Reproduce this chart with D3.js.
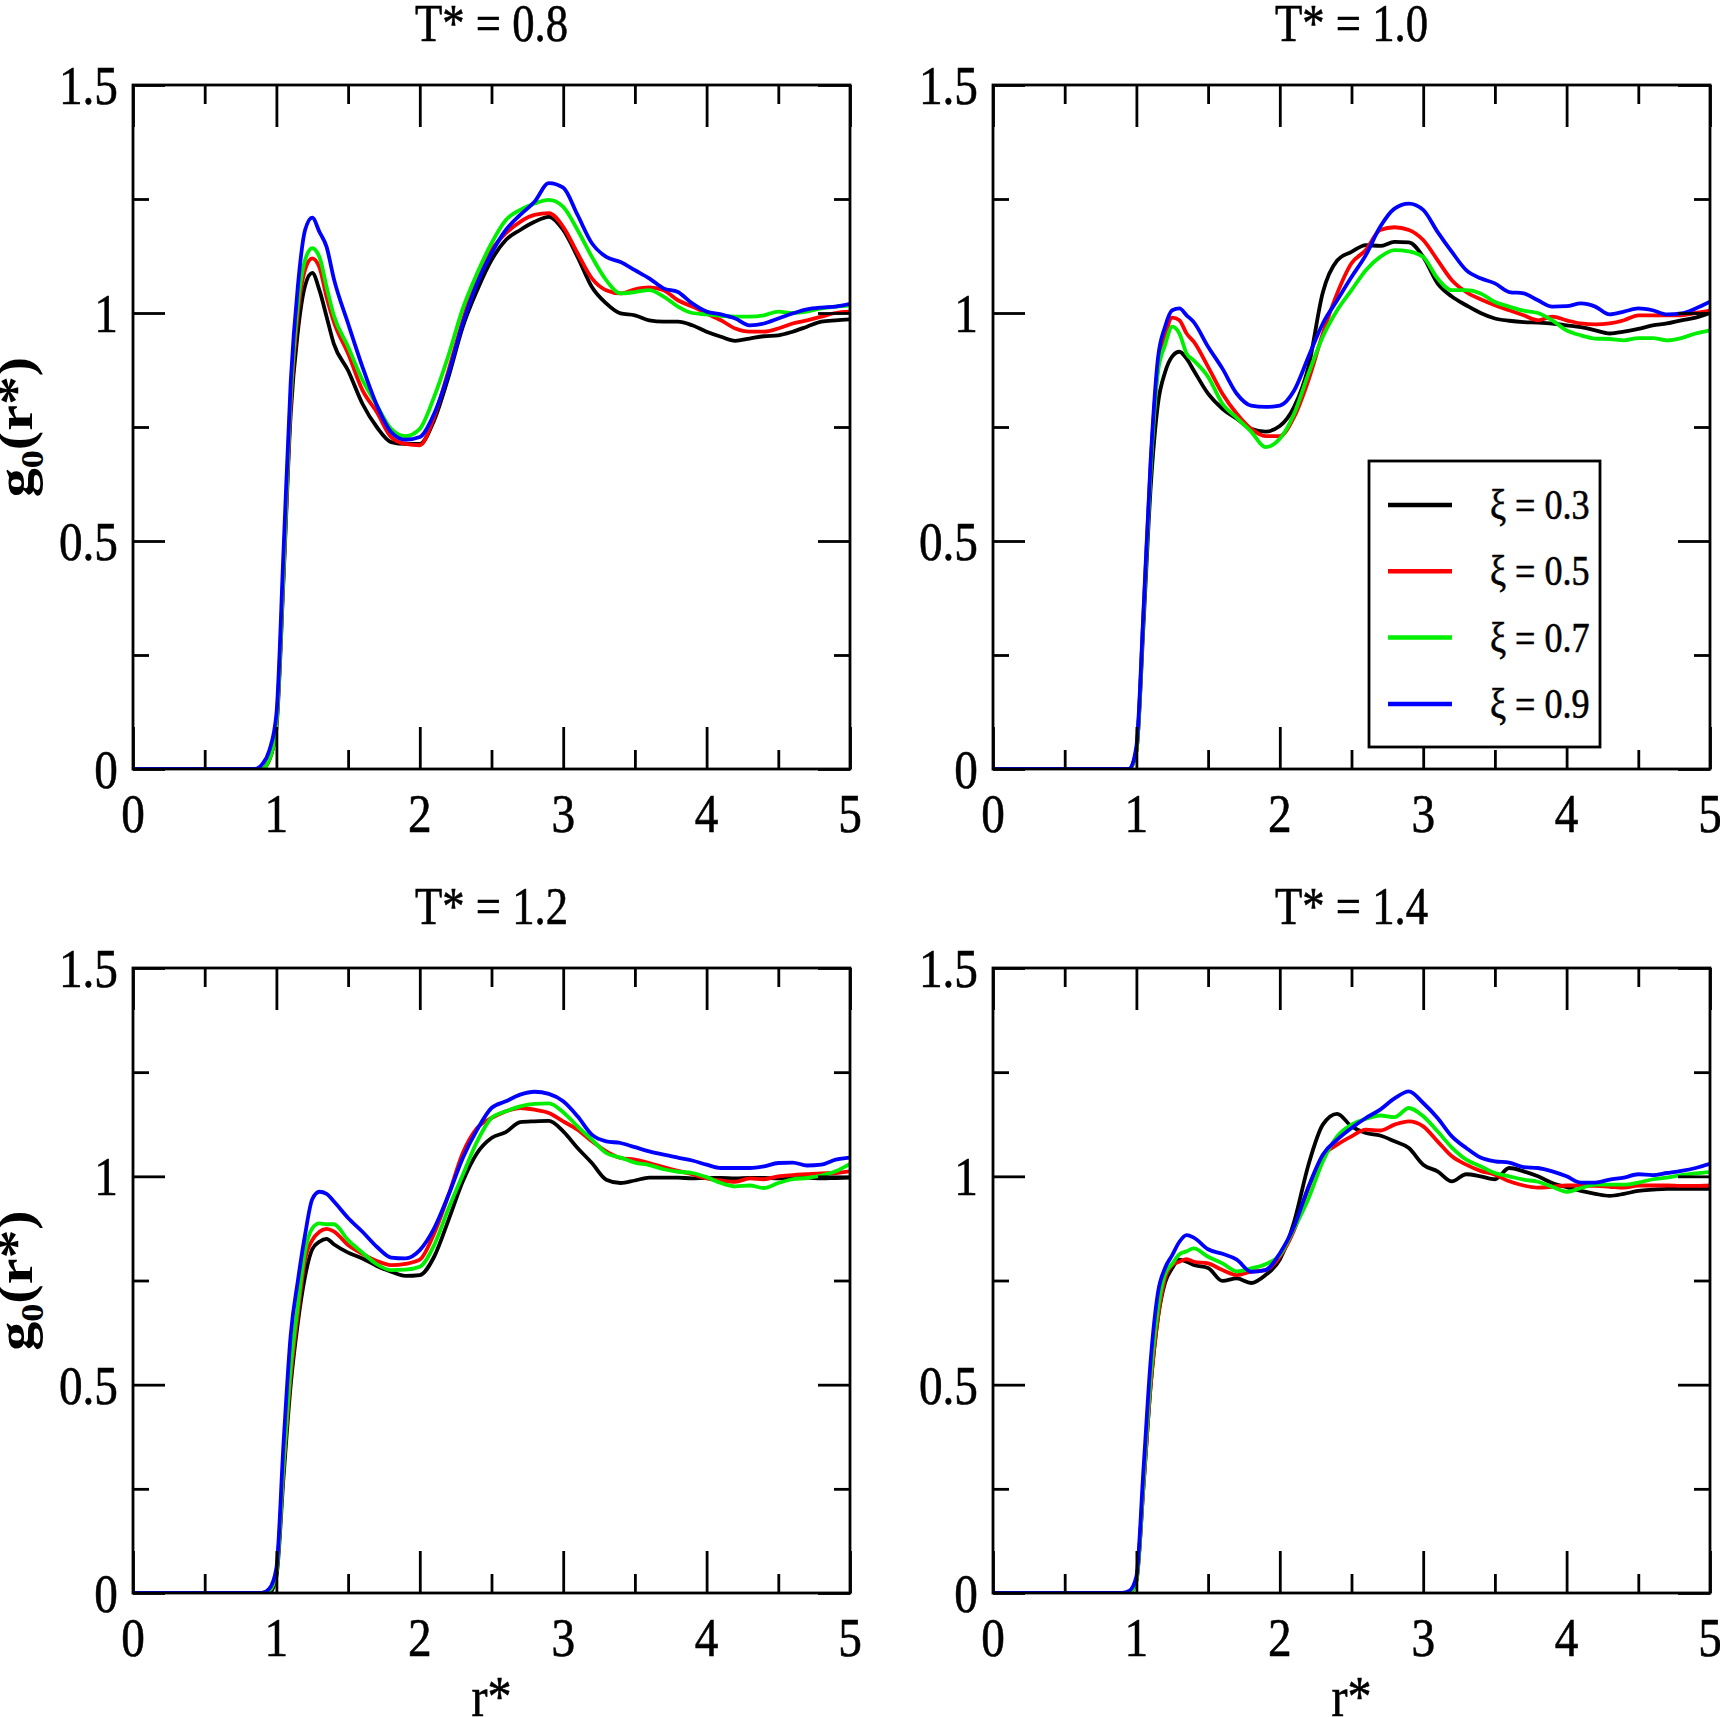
<!DOCTYPE html>
<html>
<head>
<meta charset="utf-8">
<script src="https://cdnjs.cloudflare.com/ajax/libs/d3/7.8.5/d3.min.js"></script>
<style>
  body { margin: 0; background: #fff; }
  svg { display: block; font-family: "Liberation Serif", "Times New Roman", serif; }
</style>
</head>
<body>
<div class="canvas"></div>
<script>
// r* sample points (shared by every curve)
const rGrid = [0, 0.85, 0.9, 0.95, 1.0, 1.05, 1.1, 1.15, 1.2, 1.25, 1.3, 1.35, 1.4,
  1.5, 1.6, 1.7, 1.8, 1.9, 2.0, 2.1, 2.2, 2.3, 2.4, 2.5, 2.6, 2.7, 2.8, 2.9, 3.0,
  3.1, 3.2, 3.3, 3.4, 3.5, 3.6, 3.7, 3.8, 3.9, 4.0, 4.1, 4.2, 4.3, 4.4, 4.5, 4.6,
  4.7, 4.8, 4.9, 5.0]

const xTicks = [0, 1, 2, 3, 4, 5]
const xMinor = [0.5, 1.5, 2.5, 3.5, 4.5]
const yTicks = [0, 0.5, 1, 1.5]
const yMinor = [0.25, 0.75, 1.25]
const yTickLabels = ['0', '0.5', '1', '1.5']

const panelTitles = ['T* = 0.8', 'T* = 1.0', 'T* = 1.2', 'T* = 1.4']
const xiLabels = ['ξ = 0.3', 'ξ = 0.5', 'ξ = 0.7', 'ξ = 0.9']
const xiColors = ['#000000', '#ff0000', '#00ee00', '#0000ff']

// T* = 0.8
const t08xi03 = [0, 0, 0, 0.02, 0.09, 0.42, 0.78, 0.96, 1.06, 1.088, 1.05, 0.992, 0.933,
  0.874, 0.801, 0.75, 0.717, 0.713, 0.713, 0.765, 0.86, 0.97, 1.05, 1.116, 1.16, 1.182, 1.2, 1.211, 1.182,
  1.123, 1.057, 1.021, 0.999, 0.995, 0.984, 0.981, 0.981, 0.973, 0.959, 0.948, 0.939, 0.944, 0.949, 0.951, 0.959,
  0.97, 0.981, 0.984, 0.986]
const t08xi05 = [0, 0, 0, 0.02, 0.1, 0.43, 0.8, 1.0, 1.095, 1.12, 1.1, 1.035, 0.981,
  0.911, 0.831, 0.783, 0.728, 0.713, 0.71, 0.772, 0.874, 0.984, 1.079, 1.138, 1.175, 1.2, 1.215, 1.219, 1.189,
  1.131, 1.076, 1.05, 1.043, 1.052, 1.056, 1.05, 1.028, 1.014, 0.999, 0.984, 0.966, 0.959, 0.959, 0.966, 0.977,
  0.984, 0.992, 1.0, 1.003]
const t08xi07 = [0, 0, 0, 0.02, 0.1, 0.44, 0.82, 1.02, 1.116, 1.142, 1.123, 1.057, 0.995,
  0.926, 0.853, 0.798, 0.746, 0.73, 0.746, 0.816, 0.907, 1.01, 1.087, 1.153, 1.204, 1.226, 1.24, 1.248, 1.233,
  1.182, 1.123, 1.072, 1.043, 1.046, 1.05, 1.036, 1.014, 1.0, 0.997, 0.994, 0.992, 0.992, 0.995, 1.003, 1.0,
  1.003, 1.01, 1.014, 1.017]
const t08xi09 = [0, 0, 0.01, 0.04, 0.12, 0.48, 0.85, 1.06, 1.182, 1.209, 1.178, 1.145, 1.076,
  0.977, 0.882, 0.798, 0.739, 0.722, 0.728, 0.779, 0.867, 0.977, 1.065, 1.131, 1.182, 1.215, 1.244, 1.285, 1.275,
  1.215, 1.153, 1.123, 1.112, 1.094, 1.076, 1.054, 1.046, 1.021, 1.003, 0.997, 0.988, 0.973, 0.977, 0.988, 0.999,
  1.008, 1.012, 1.014, 1.02]

// T* = 1.0
const t10xi03 = [0, 0, 0, 0, 0.04, 0.32, 0.62, 0.8, 0.87, 0.905, 0.915, 0.9, 0.874,
  0.823, 0.79, 0.768, 0.746, 0.74, 0.752, 0.794, 0.882, 1.045, 1.115, 1.134, 1.149, 1.147, 1.156, 1.155, 1.123,
  1.065, 1.036, 1.017, 1.0, 0.988, 0.983, 0.98, 0.979, 0.977, 0.973, 0.969, 0.962, 0.955, 0.959, 0.965, 0.973,
  0.977, 0.984, 0.99, 1.0]
const t10xi05 = [0, 0, 0, 0, 0.04, 0.34, 0.67, 0.88, 0.95, 0.99, 0.984, 0.955, 0.937,
  0.882, 0.823, 0.779, 0.746, 0.73, 0.73, 0.772, 0.853, 0.955, 1.043, 1.109, 1.138, 1.182, 1.188, 1.182, 1.16,
  1.116, 1.072, 1.046, 1.03, 1.017, 1.006, 0.995, 0.984, 0.992, 0.984, 0.977, 0.975, 0.977, 0.984, 0.995, 0.995,
  0.995, 0.995, 1.0, 1.005]
const t10xi07 = [0, 0, 0, 0, 0.04, 0.34, 0.66, 0.87, 0.93, 0.97, 0.955, 0.911, 0.896,
  0.86, 0.801, 0.77, 0.74, 0.706, 0.724, 0.779, 0.867, 0.948, 1.006, 1.05, 1.094, 1.123, 1.138, 1.135, 1.123,
  1.076, 1.05, 1.05, 1.043, 1.024, 1.014, 1.005, 1.0, 0.984, 0.962, 0.951, 0.944, 0.943, 0.94, 0.945, 0.945,
  0.94, 0.945, 0.955, 0.962]
const t10xi09 = [0, 0, 0, 0, 0.05, 0.35, 0.68, 0.9, 0.97, 1.006, 1.01, 0.995, 0.98,
  0.926, 0.878, 0.823, 0.797, 0.794, 0.797, 0.83, 0.904, 0.977, 1.028, 1.079, 1.127, 1.189, 1.229, 1.24, 1.226,
  1.178, 1.134, 1.094, 1.076, 1.065, 1.046, 1.043, 1.028, 1.014, 1.015, 1.021, 1.014, 0.997, 1.003, 1.01, 1.006,
  0.997, 0.999, 1.01, 1.025]

// T* = 1.2
const t12xi03 = [0, 0, 0, 0, 0.04, 0.28, 0.5, 0.65, 0.76, 0.825, 0.843, 0.85, 0.837,
  0.817, 0.803, 0.785, 0.771, 0.761, 0.763, 0.807, 0.895, 0.988, 1.056, 1.092, 1.106, 1.13, 1.132, 1.133, 1.108,
  1.068, 1.032, 0.992, 0.984, 0.99, 0.997, 0.997, 0.997, 0.995, 0.996, 0.996, 0.995, 0.996, 0.996, 0.995, 0.996,
  0.997, 0.995, 0.996, 0.997]
const t12xi05 = [0, 0, 0, 0.005, 0.05, 0.3, 0.52, 0.67, 0.8, 0.847, 0.867, 0.874, 0.868,
  0.835, 0.814, 0.797, 0.787, 0.79, 0.8, 0.863, 0.955, 1.056, 1.116, 1.14, 1.156, 1.164, 1.16, 1.152, 1.132,
  1.112, 1.084, 1.06, 1.044, 1.04, 1.032, 1.022, 1.013, 1.005, 0.995, 0.99, 0.987, 0.995, 0.993, 1.0, 1.003,
  1.005, 1.007, 1.008, 1.012]
const t12xi07 = [0, 0, 0, 0.005, 0.05, 0.31, 0.54, 0.69, 0.82, 0.875, 0.887, 0.885, 0.885,
  0.847, 0.817, 0.789, 0.775, 0.776, 0.783, 0.835, 0.923, 1.004, 1.084, 1.14, 1.156, 1.168, 1.174, 1.175, 1.154,
  1.12, 1.088, 1.056, 1.045, 1.033, 1.027, 1.017, 1.011, 1.008, 0.998, 0.984, 0.976, 0.978, 0.972, 0.984, 0.993,
  0.996, 1.002, 1.012, 1.03]
const t12xi09 = [0, 0, 0, 0.01, 0.06, 0.36, 0.62, 0.75, 0.86, 0.945, 0.963, 0.958, 0.94,
  0.9, 0.867, 0.831, 0.805, 0.803, 0.823, 0.875, 0.955, 1.044, 1.112, 1.164, 1.18, 1.196, 1.203, 1.198, 1.18,
  1.144, 1.1, 1.084, 1.08, 1.07, 1.06, 1.052, 1.045, 1.038, 1.028, 1.02, 1.02, 1.02, 1.024, 1.032, 1.033,
  1.026, 1.028, 1.04, 1.045]

// T* = 1.4
const t14xi03 = [0, 0, 0, 0, 0.03, 0.26, 0.5, 0.66, 0.745, 0.78, 0.8, 0.795, 0.787,
  0.78, 0.749, 0.755, 0.744, 0.763, 0.8, 0.891, 1.028, 1.124, 1.15, 1.12, 1.104, 1.098, 1.084, 1.068, 1.028,
  1.012, 0.988, 1.005, 1.0, 0.993, 1.02, 1.012, 1.0, 0.984, 0.974, 0.965, 0.958, 0.953, 0.958, 0.965, 0.968,
  0.97, 0.97, 0.97, 0.97]
const t14xi05 = [0, 0, 0, 0, 0.03, 0.26, 0.5, 0.66, 0.755, 0.787, 0.795, 0.801, 0.795,
  0.791, 0.775, 0.763, 0.771, 0.775, 0.807, 0.871, 0.972, 1.048, 1.076, 1.096, 1.112, 1.11, 1.124, 1.132, 1.12,
  1.084, 1.048, 1.028, 1.013, 1.004, 0.988, 0.978, 0.973, 0.975, 0.978, 0.978, 0.977, 0.975, 0.973, 0.978, 0.978,
  0.978, 0.977, 0.977, 0.978]
const t14xi07 = [0, 0, 0, 0, 0.03, 0.27, 0.52, 0.68, 0.765, 0.79, 0.813, 0.82, 0.827,
  0.807, 0.791, 0.772, 0.779, 0.789, 0.811, 0.875, 0.947, 1.036, 1.096, 1.124, 1.138, 1.146, 1.142, 1.164, 1.144,
  1.108, 1.069, 1.04, 1.024, 1.008, 1.0, 0.992, 0.987, 0.975, 0.963, 0.972, 0.98, 0.98, 0.98, 0.985, 0.993,
  0.997, 1.003, 1.007, 1.01]
const t14xi09 = [0, 0, 0, 0.005, 0.04, 0.3, 0.56, 0.72, 0.78, 0.811, 0.843, 0.859, 0.853,
  0.825, 0.814, 0.8, 0.771, 0.775, 0.815, 0.88, 0.975, 1.052, 1.088, 1.116, 1.14, 1.16, 1.187, 1.204, 1.176,
  1.14, 1.096, 1.068, 1.045, 1.036, 1.033, 1.022, 1.02, 1.012, 1.0, 0.985, 0.985, 0.992, 0.997, 1.005, 1.003,
  1.008, 1.013, 1.02, 1.03]

const panelSeries = [
  [t08xi03, t08xi05, t08xi07, t08xi09],
  [t10xi03, t10xi05, t10xi07, t10xi09],
  [t12xi03, t12xi05, t12xi07, t12xi09],
  [t14xi03, t14xi05, t14xi07, t14xi09]
]

// Layout
const W = 1720, H = 1717
const squeeze = 0.86   // glyphs in the figure are narrow
const boxes = [
  { left: 133, top: 85, w: 717, h: 684 },
  { left: 993, top: 85, w: 717, h: 684 },
  { left: 133, top: 968, w: 717, h: 625 },
  { left: 993, top: 968, w: 717, h: 625 }
]

const svg = d3.select('.canvas')
  .append('svg')
  .attr('width', W)
  .attr('height', H)

svg.append('rect').attr('width', W).attr('height', H).attr('fill', '#fff')

const addText = (parent, x, y, str, size, anchor) => {
  return parent.append('text')
    .attr('transform', `translate(${x}, ${y}) scale(${squeeze}, 1)`)
    .attr('text-anchor', anchor)
    .attr('font-size', size)
    .attr('fill', '#000')
    .attr('stroke', '#000')
    .attr('stroke-width', 0.6)
    .text(str)
}

panelTitles.forEach((title, p) => {
  const b = boxes[p]
  const graph = svg.append('g')
    .attr('transform', `translate(${b.left}, ${b.top})`)

  const x = d3.scaleLinear().domain([0, 5]).range([0, b.w])
  const y = d3.scaleLinear().domain([0, 1.5]).range([b.h, 0])

  // clip
  graph.append('clipPath').attr('id', 'clip' + p)
    .append('rect').attr('width', b.w).attr('height', b.h)

  // curves
  const line = d3.line()
    .x((d, i) => x(rGrid[i]))
    .y(d => y(d))
    .curve(d3.curveMonotoneX)

  graph.append('g').attr('clip-path', `url(#clip${p})`)
    .selectAll('path')
    .data(panelSeries[p])
    .enter()
    .append('path')
    .attr('d', line)
    .attr('fill', 'none')
    .attr('stroke', (d, i) => xiColors[i])
    .attr('stroke-width', 3.8)
    .attr('stroke-linejoin', 'round')

  // ticks (inside, on all four sides)
  const tickGroup = (axis, tx, ty) => {
    graph.append('g')
      .attr('transform', `translate(${tx}, ${ty})`)
      .call(axis.tickFormat(''))
      .call(g => g.select('.domain').remove())
      .call(g => g.selectAll('line').attr('stroke', '#000').attr('stroke-width', 2.8))
  }
  tickGroup(d3.axisBottom(x).tickValues(xTicks).tickSize(-42), 0, b.h)
  tickGroup(d3.axisBottom(x).tickValues(xMinor).tickSize(-19), 0, b.h)
  tickGroup(d3.axisTop(x).tickValues(xTicks).tickSize(-42), 0, 0)
  tickGroup(d3.axisTop(x).tickValues(xMinor).tickSize(-19), 0, 0)
  tickGroup(d3.axisLeft(y).tickValues(yTicks).tickSize(-32), 0, 0)
  tickGroup(d3.axisLeft(y).tickValues(yMinor).tickSize(-16), 0, 0)
  tickGroup(d3.axisRight(y).tickValues(yTicks).tickSize(-32), b.w, 0)
  tickGroup(d3.axisRight(y).tickValues(yMinor).tickSize(-16), b.w, 0)

  // frame
  graph.append('rect')
    .attr('width', b.w)
    .attr('height', b.h)
    .attr('fill', 'none')
    .attr('stroke', '#000')
    .attr('stroke-width', 2.8)

  // tick labels
  xTicks.forEach(t => addText(graph, x(t), b.h + 63, String(t), 55, 'middle'))
  yTicks.forEach((t, i) => addText(graph, -15, y(t) + 19, yTickLabels[i], 55, 'end'))

  // title
  addText(graph, b.w / 2, -44, title, 52, 'middle')

  // y label on left column
  if (p % 2 === 0) {
    const lab = graph.append('text')
      .attr('transform', `translate(${32 - b.left}, ${b.h / 2}) scale(${squeeze}, 1) rotate(-90)`)
      .attr('text-anchor', 'middle')
      .attr('font-size', 58)
      .attr('font-weight', 'bold')
    lab.append('tspan').text('g')
    lab.append('tspan').attr('font-size', 36).attr('dy', 13).text('0')
    lab.append('tspan').attr('dy', -13).text('(r*)')
  }

  // x label on bottom row
  if (p >= 2) {
    addText(graph, b.w / 2, H - b.top - 1, 'r*', 56, 'middle')
  }

  // legend in T* = 1.0 panel
  if (p === 1) {
    const lg = graph.append('g').attr('transform', `translate(${1369 - b.left}, ${461 - b.top})`)
    lg.append('rect')
      .attr('width', 231)
      .attr('height', 286)
      .attr('fill', '#fff')
      .attr('stroke', '#000')
      .attr('stroke-width', 2.8)
    xiLabels.forEach((lbl, i) => {
      const ly = 44 + i * 66.3
      lg.append('line')
        .attr('x1', 19).attr('x2', 83)
        .attr('y1', ly).attr('y2', ly)
        .attr('stroke', xiColors[i])
        .attr('stroke-width', 4.5)
      addText(lg, 121, ly + 14, lbl, 42, 'start')
    })
  }
})
</script>
</body>
</html>
